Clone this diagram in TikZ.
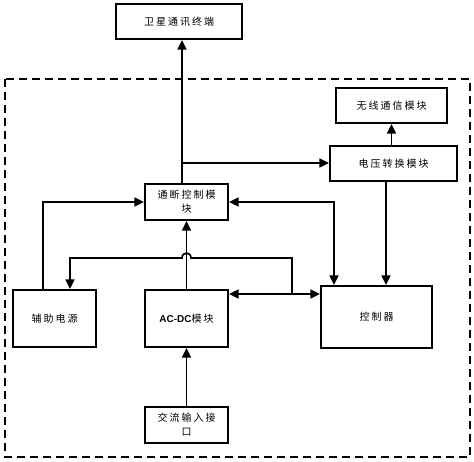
\documentclass[tikz,border=0pt]{standalone}
\usepackage{fontspec}
\setmainfont{Liberation Sans}
\newfontfamily\cjk[LetterSpace=20]{Noto Sans CJK SC}
\usetikzlibrary{arrows.meta,calc}
\begin{document}
\begin{tikzpicture}[x=1pt,y=-1pt,
  box/.style={draw,line width=2.2pt,rectangle,inner sep=0pt,align=center,font=\cjk\fontsize{10}{14}\selectfont},
  conn/.style={line width=1.7pt},
  arr/.style={conn,-{Triangle[length=9.5pt,width=9pt]}},
  barr/.style={conn,{Triangle[length=9.5pt,width=9pt]}-{Triangle[length=9.5pt,width=9pt]}}]
\useasboundingbox (0,0) rectangle (474,462);
\draw[line width=1.3pt,dash pattern=on 8pt off 5pt] (5,79) rectangle (470,457);
\node[box,minimum width=126pt,minimum height=35pt] (sat) at (179,21.5) {卫星通讯终端};
\node[box,minimum width=111pt,minimum height=35pt] (wl) at (391.5,105.5) {无线通信模块};
\node[box,minimum width=127pt,minimum height=35pt] (vc) at (393.5,163.5) {电压转换模块};
\node[box,minimum width=83pt,minimum height=36pt] (comm) at (186.5,202) {通断控制模\\块};
\node[box,minimum width=83pt,minimum height=57pt] (aux) at (54.5,318.5) {辅助电源};
\node[box,minimum width=83pt,minimum height=57pt] (acdc) at (186.5,318.5) {{\rmfamily\bfseries AC-DC}模块};
\node[box,minimum width=111pt,minimum height=62pt] (ctrl) at (376.5,317) {控制器};
\node[box,minimum width=83pt,minimum height=36pt] (ac) at (186.5,425) {交流输入接\\口};
\coordinate (j1) at (182,163);
\coordinate (j2) at (292,294);
\draw[conn] (comm.north -| j1) -- (j1);
\draw[arr] (j1) -- (sat.south -| j1);
\draw[arr] (j1) -- (vc.west |- j1);
\draw[arr] (wl.south |- vc.north) -- (wl.south);
\draw[arr] ([xshift=-11.5pt]aux.north) |- (comm.west);
\draw[barr] (comm.east) -| ([xshift=-42.5pt]ctrl.north);
\draw[arr] ([xshift=-7.5pt]vc.south) -- ([xshift=-7.5pt]vc.south |- ctrl.north);
\draw[barr] (acdc.east |- j2) -- (ctrl.west |- j2);
\draw[arr] (j2) -- (292,258) -- (191,258) .. controls (191,251.5) and (182,251.5) .. (182,258) -- (70,258) -- ([xshift=15.5pt]aux.north);
\draw[arr] (acdc.north) -- (comm.south);
\draw[arr] (ac.north) -- (acdc.south);
\end{tikzpicture}
\end{document}
